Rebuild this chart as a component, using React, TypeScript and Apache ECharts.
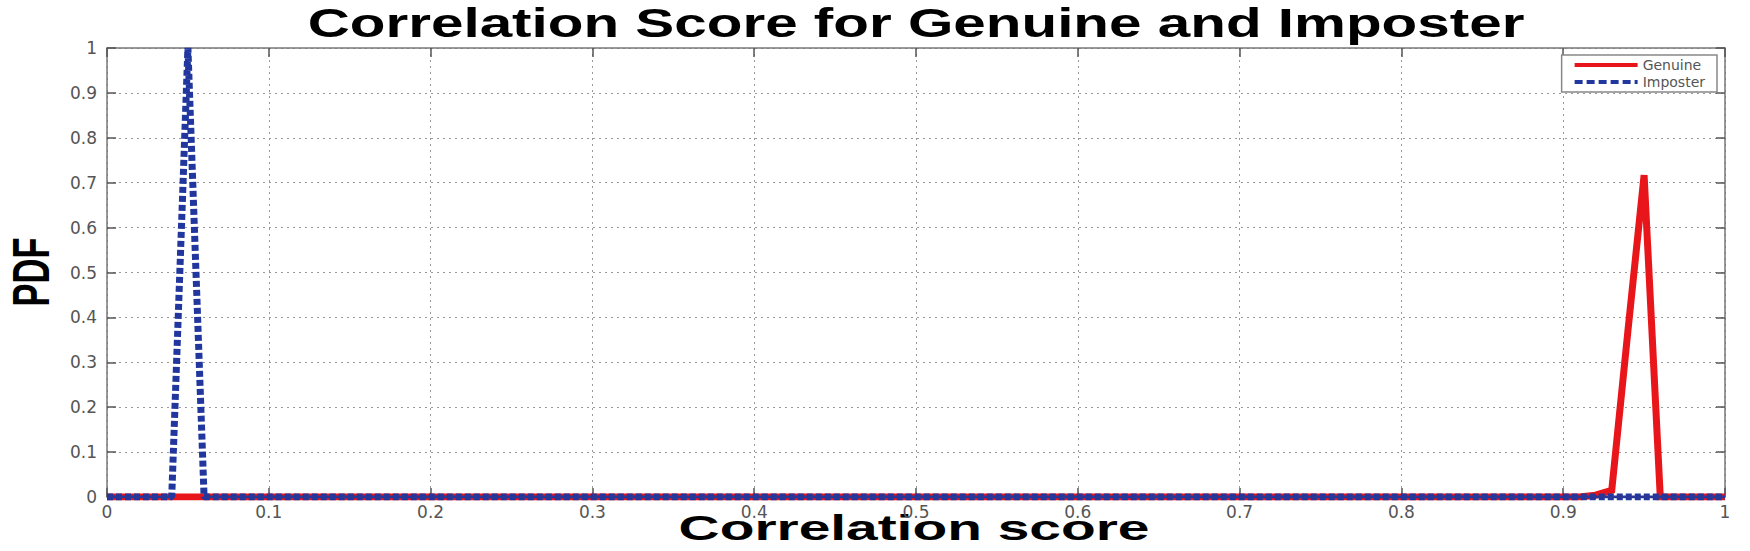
import React, { useEffect, useRef } from "react";
import * as echarts from "echarts";

// ---- data ----
const titleText = "Correlation Score for Genuine and Imposter";
const xAxisTitle = "Correlation score";
const yAxisTitle = "PDF";
const seriesNames = ["Genuine", "Imposter"];

const genuineScore = [0, 0.91, 0.92, 0.93, 0.94, 0.95, 0.96, 1];
const genuinePdf = [0, 0, 0.004, 0.015, 0.37, 0.717, 0, 0];

const imposterScore = [0, 0.04, 0.05, 0.06, 1];
const imposterPdf = [0, 0, 1.0, 0, 0];

const tickStep = 0.1;

const RED = "#e8161b";
const BLUE = "#22379e";
const BASE_BLUE = "#2b3796";

// legend icons: a solid bar and a dashed bar
const SOLID_ICON = "rect";
const DASHED_ICON =
  "path://M0,0h8v4h-8z M12,0h8v4h-8z M24,0h8v4h-8z M36,0h8v4h-8z M48,0h8v4h-8z M60,0h3v4h-3z";

export default function App() {
  const ref = useRef<HTMLDivElement>(null);

  useEffect(() => {
    document.body.style.margin = "0";
    if (!ref.current) return;
    const chart = echarts.init(ref.current, undefined, { renderer: "svg" });

    const genuineData = genuineScore.map((x, i) => [x, genuinePdf[i]]);
    const imposterData = imposterScore.map((x, i) => [x, imposterPdf[i]]);
    // zero runs of the imposter curve (drawn solid along the baseline)
    const imposterBase = imposterScore.map((x, i) =>
      imposterPdf[i] === 0 ? [x, 0] : [x, null]
    );

    const labelFmt = (v: number) => String(+v.toFixed(1));
    const tickFont = {
      color: "#555",
      fontFamily: "DejaVu Sans",
      fontSize: 17,
    };
    const axisLine = { show: true, onZero: false, lineStyle: { color: "#777", width: 1.5 } };
    const axisTick = { show: true, inside: true, length: 9, lineStyle: { color: "#555", width: 1.5 } };

    chart.setOption({
      animation: false,
      backgroundColor: "#fff",
      grid: { left: 107, right: 25, top: 48, bottom: 54, containLabel: false },
      legend: {
        data: [
          { name: seriesNames[0], icon: SOLID_ICON },
          { name: seriesNames[1], icon: DASHED_ICON },
        ],
        orient: "vertical",
        right: 33,
        top: 55,
        itemWidth: 63,
        itemHeight: 4,
        itemGap: 3,
        padding: [3, 12, 3, 13],
        borderColor: "#888",
        borderWidth: 1.5,
        borderRadius: 0,
        backgroundColor: "#fff",
        textStyle: {
          color: "#555",
          fontFamily: "DejaVu Sans",
          fontSize: 14,
          width: 75,
        },
      },
      xAxis: [
        {
          type: "value",
          min: 0,
          max: 1,
          interval: tickStep,
          axisLine,
          axisTick,
          axisLabel: { ...tickFont, margin: 6, formatter: labelFmt },
          splitLine: { show: true, lineStyle: { type: [2, 4], color: "#999", width: 1 } },
        },
        {
          type: "value",
          position: "top",
          min: 0,
          max: 1,
          interval: tickStep,
          axisLine,
          axisTick,
          axisLabel: { show: false },
          splitLine: { show: false },
        },
      ],
      yAxis: [
        {
          type: "value",
          min: 0,
          max: 1,
          interval: tickStep,
          axisLine,
          axisTick,
          axisLabel: { ...tickFont, margin: 10, formatter: labelFmt },
          splitLine: { show: true, lineStyle: { type: [2, 4], color: "#999", width: 1 } },
        },
        {
          type: "value",
          position: "right",
          min: 0,
          max: 1,
          interval: tickStep,
          axisLine,
          axisTick,
          axisLabel: { show: false },
          splitLine: { show: false },
        },
      ],
      series: [
        {
          name: seriesNames[0],
          type: "line",
          data: genuineData,
          symbol: "none",
          lineStyle: { color: RED, width: 7, join: "miter" },
          itemStyle: { color: RED },
          z: 3,
        },
        {
          name: seriesNames[1],
          type: "line",
          data: imposterData,
          symbol: "none",
          lineStyle: { color: BLUE, width: 7, type: [6, 3] },
          itemStyle: { color: BLUE },
          z: 4,
        },
        {
          name: "Imposter baseline",
          type: "line",
          data: imposterBase,
          connectNulls: false,
          symbol: "none",
          lineStyle: { color: BASE_BLUE, width: 3 },
          itemStyle: { color: BASE_BLUE },
          z: 5,
        },
      ],
      graphic: [
        {
          type: "text",
          x: 916,
          y: 23,
          scaleX: 1.46,
          style: {
            text: titleText,
            font: "bold 40px 'Liberation Sans', Arial, sans-serif",
            fill: "#000",
            align: "center",
            verticalAlign: "middle",
          },
        },
        {
          type: "text",
          x: 914,
          y: 528,
          scaleX: 1.58,
          style: {
            text: xAxisTitle,
            font: "bold 36px 'Liberation Sans', Arial, sans-serif",
            fill: "#000",
            align: "center",
            verticalAlign: "middle",
          },
        },
        {
          type: "text",
          x: 31,
          y: 272,
          rotation: Math.PI / 2,
          scaleX: 0.86,
          scaleY: 1.3,
          style: {
            text: yAxisTitle,
            font: "bold 40px 'Liberation Sans', Arial, sans-serif",
            fill: "#000",
            align: "center",
            verticalAlign: "middle",
          },
        },
      ],
    });

    return () => chart.dispose();
  }, []);

  return (
    <div
      ref={ref}
      style={{ position: "fixed", left: 0, top: 0, width: 1750, height: 551 }}
    />
  );
}
